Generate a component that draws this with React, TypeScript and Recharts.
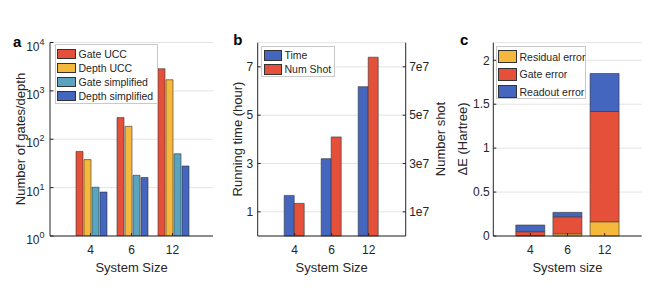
import React from 'react';
import { BarChart, Bar, XAxis, YAxis, CartesianGrid, Legend } from 'recharts';

// ---------- data ----------
const categories = ['4', '6', '12'];

const gateUCC = [56, 280, 2870];
const depthUCC = [38, 185, 1700];
const gateSimplified = [10.2, 18, 50];
const depthSimplified = [8.1, 16.2, 28];

const runningTime = [1.68, 3.2, 6.18];
const numShot = [1.35e7, 4.1e7, 7.4e7];

const residualError = [0.005, 0.025, 0.162];
const gateError = [0.044, 0.194, 1.255];
const readoutError = [0.076, 0.05, 0.432];

const logTicks = [1, 10, 100, 1000, 10000];
const logMinorTicks = [
  2, 3, 4, 5, 6, 7, 8, 9,
  20, 30, 40, 50, 60, 70, 80, 90,
  200, 300, 400, 500, 600, 700, 800, 900,
  2000, 3000, 4000, 5000, 6000, 7000, 8000, 9000,
];
const timeTicks = [1, 3, 5, 7];
const shotTicks = [1e7, 3e7, 5e7, 7e7];
const errorTicks = [0, 0.5, 1, 1.5, 2];

// ---------- styles ----------
const FONT = "'Liberation Sans', Arial, Helvetica, sans-serif";
const INK = '#262626';
const GRID = '#e3e3e3';
const EDGE = '#333333';
const RED = '#E5503A';
const YELLOW = '#F6B83C';
const TEAL = '#5AA4BF';
const BLUE = '#4566BE';

const tickStyle = { fill: INK, fontSize: 12, fontFamily: FONT };
const axisLine = { stroke: INK, strokeWidth: 1 };

const dataA = categories.map((c, i) => ({
  size: c,
  gateUCC: gateUCC[i],
  depthUCC: depthUCC[i],
  gateSimplified: gateSimplified[i],
  depthSimplified: depthSimplified[i],
}));
const dataB = categories.map((c, i) => ({ size: c, time: runningTime[i], shot: numShot[i] }));
const dataC = categories.map((c, i) => ({
  size: c,
  residual: residualError[i],
  gate: gateError[i],
  readout: readoutError[i],
}));

type Item = { name: string; color: string };

const legendA: Item[] = [
  { name: 'Gate UCC', color: RED },
  { name: 'Depth UCC', color: YELLOW },
  { name: 'Gate simplified', color: TEAL },
  { name: 'Depth simplified', color: BLUE },
];
const legendB: Item[] = [
  { name: 'Time', color: BLUE },
  { name: 'Num Shot', color: RED },
];
const legendC: Item[] = [
  { name: 'Residual error', color: YELLOW },
  { name: 'Gate error', color: RED },
  { name: 'Readout error', color: BLUE },
];

function makeLegend(items: Item[], w: number, h: number, padTop: number, padLeft: number, rowH: number, swW: number, swH: number) {
  return () => (
    <div
      style={{
        width: w,
        height: h,
        boxSizing: 'border-box',
        border: '1px solid #c9c9c9',
        background: '#fff',
        paddingTop: padTop,
        paddingLeft: padLeft,
        fontFamily: FONT,
        fontSize: 10.5,
        lineHeight: 1,
        color: INK,
        overflow: 'visible',
      }}
    >
      {items.map((it) => (
        <div key={it.name} style={{ height: rowH, display: 'flex', alignItems: 'center', whiteSpace: 'nowrap' }}>
          <span
            style={{
              display: 'inline-block',
              flexShrink: 0,
              width: swW,
              height: swH,
              boxSizing: 'border-box',
              background: it.color,
              border: `1px solid ${EDGE}`,
              marginRight: 2.5,
            }}
          />
          <span>{it.name}</span>
        </div>
      ))}
    </div>
  );
}

const LogTick = (props: any) => {
  const { x, y, payload } = props;
  const exp = Math.round(Math.log10(payload.value));
  return (
    <text x={x} y={y + 8} textAnchor="end" fill={INK} fontSize={12} fontFamily={FONT}>
      <tspan>10</tspan>
      <tspan dy={-6} fontSize={9}>{exp}</tspan>
    </text>
  );
};

const yLabel = (text: string, x: number, y: number) => () => (
  <text
    transform={`translate(${x},${y}) rotate(-90)`}
    textAnchor="middle"
    dominantBaseline="central"
    fill={INK}
    fontSize={13}
    fontFamily={FONT}
  >
    {text}
  </text>
);

const xLabel = (text: string, cx: number, letter: string, lx: number, ly: number) => () => (
  <g>
    <text x={cx} y={272} textAnchor="middle" fill={INK} fontSize={13} fontFamily={FONT}>
      {text}
    </text>
    <text x={lx} y={ly} fill="#000" fontSize={15} fontWeight="bold" fontFamily={FONT}>
      {letter}
    </text>
  </g>
);

const barEdge = { stroke: EDGE, strokeWidth: 0.6 };

export default function App() {
  return (
    <div style={{ position: 'absolute', left: 0, top: 0, width: 664, height: 291, background: '#fff', overflow: 'hidden' }}>
      {/* Panel a */}
      <div style={{ position: 'absolute', left: 0, top: 0 }}>
        <BarChart
          width={222}
          height={291}
          data={dataA}
          margin={{ top: 42.5, right: 9, bottom: 25, left: 10 }}
          barCategoryGap={6}
          barGap={1}
        >
          <CartesianGrid vertical={false} stroke={GRID} />
          <XAxis
            dataKey="size"
            height={30}
            padding={{ left: 20, right: 20 }}
            tick={tickStyle}
            axisLine={axisLine}
            tickLine={{ stroke: INK }}
            tickSize={-3}
            tickMargin={12}
            label={xLabel('System Size', 131.5, 'a', 13, 46.5)}
          />
          <XAxis xAxisId="top" dataKey="size" orientation="top" height={0} tick={false} tickLine={false} axisLine={axisLine} padding={{ left: 20, right: 20 }} />
          <YAxis
            yAxisId="minor"
            width={0}
            scale="log"
            type="number"
            domain={[1, 10000]}
            allowDataOverflow
            ticks={logMinorTicks}
            tick={false}
            tickSize={-2}
            tickLine={{ stroke: INK }}
            axisLine={false}
          />
          <YAxis
            width={40}
            scale="log"
            type="number"
            domain={[1, 10000]}
            allowDataOverflow
            ticks={logTicks}
            tick={<LogTick />}
            tickSize={-3.5}
            tickMargin={9}
            tickLine={{ stroke: INK }}
            axisLine={axisLine}
            label={yLabel('Number of gates/depth', 20, 139)}
          />
          <YAxis
            yAxisId="right"
            orientation="right"
            width={0}
            scale="log"
            type="number"
            domain={[1, 10000]}
            allowDataOverflow
            ticks={logTicks}
            tick={false}
            tickSize={-3.5}
            tickLine={{ stroke: INK }}
            axisLine={axisLine}
          />
          <Legend
            layout="horizontal"
            verticalAlign="middle"
            align="center"
            wrapperStyle={{ left: 55, top: 43.5, width: 103, height: 60 }}
            content={makeLegend(legendA, 103, 60, 3, 1, 13.9, 19, 10)}
          />
          <Bar dataKey="gateUCC" name="Gate UCC" fill={RED} {...barEdge} isAnimationActive={false} />
          <Bar dataKey="depthUCC" name="Depth UCC" fill={YELLOW} {...barEdge} isAnimationActive={false} />
          <Bar dataKey="gateSimplified" name="Gate simplified" fill={TEAL} {...barEdge} isAnimationActive={false} />
          <Bar dataKey="depthSimplified" name="Depth simplified" fill={BLUE} {...barEdge} isAnimationActive={false} />
        </BarChart>
      </div>

      {/* Panel b */}
      <div style={{ position: 'absolute', left: 222, top: 0 }}>
        <BarChart
          width={232}
          height={291}
          data={dataB}
          margin={{ top: 42.7, right: 18.3, bottom: 25, left: 5.7 }}
          barCategoryGap={8}
          barGap={0}
        >
          <CartesianGrid vertical={false} stroke={GRID} />
          <XAxis
            dataKey="size"
            height={30}
            padding={{ left: 18.5, right: 18.5 }}
            tick={tickStyle}
            axisLine={axisLine}
            tickLine={{ stroke: INK }}
            tickSize={-3}
            tickMargin={12}
            label={xLabel('System Size', 109.7, 'b', 11.3, 45)}
          />
          <XAxis xAxisId="top" dataKey="size" orientation="top" height={0} tick={false} tickLine={false} axisLine={axisLine} padding={{ left: 18.5, right: 18.5 }} />
          <YAxis
            width={30}
            type="number"
            domain={[0, 8]}
            ticks={timeTicks}
            tick={tickStyle}
            tickSize={-3}
            tickMargin={7.5}
            tickLine={{ stroke: INK }}
            axisLine={axisLine}
            label={yLabel('Running time (hour)', 15.7, 139)}
          />
          <YAxis
            yAxisId="shot"
            orientation="right"
            width={30}
            type="number"
            domain={[0, 8e7]}
            ticks={shotTicks}
            tickFormatter={(v: number) => `${Math.round(v / 1e7)}e7`}
            tick={tickStyle}
            tickSize={-3}
            tickMargin={6.5}
            tickLine={{ stroke: INK }}
            axisLine={axisLine}
            label={yLabel('Number shot', 218.3, 139)}
          />
          <Legend
            layout="horizontal"
            verticalAlign="middle"
            align="center"
            wrapperStyle={{ left: 38.7, top: 46, width: 74, height: 31 }}
            content={makeLegend(legendB, 74, 31, 1.5, 2.3, 14, 18, 11)}
          />
          <Bar dataKey="time" name="Time" fill={BLUE} {...barEdge} isAnimationActive={false} />
          <Bar dataKey="shot" name="Num Shot" yAxisId="shot" fill={RED} {...barEdge} isAnimationActive={false} />
        </BarChart>
      </div>

      {/* Panel c */}
      <div style={{ position: 'absolute', left: 442, top: 0 }}>
        <BarChart
          width={222}
          height={291}
          data={dataC}
          margin={{ top: 42.7, right: 22.3, bottom: 25, left: 11.3 }}
          barCategoryGap={4}
        >
          <CartesianGrid vertical={false} stroke={GRID} />
          <XAxis
            dataKey="size"
            height={30}
            padding={{ left: 18.5, right: 18.5 }}
            tick={tickStyle}
            axisLine={axisLine}
            tickLine={{ stroke: INK }}
            tickSize={-3}
            tickMargin={12}
            label={xLabel('System size', 125.5, 'c', 18, 45)}
          />
          <XAxis xAxisId="top" dataKey="size" orientation="top" height={0} tick={false} tickLine={false} axisLine={axisLine} padding={{ left: 18.5, right: 18.5 }} />
          <YAxis
            width={40}
            type="number"
            domain={[0, 2.2]}
            ticks={errorTicks}
            tick={tickStyle}
            tickSize={-3}
            tickMargin={6.5}
            tickLine={{ stroke: INK }}
            axisLine={axisLine}
            label={yLabel('ΔE (Hartree)', 20.5, 139)}
          />
          <YAxis
            yAxisId="right"
            orientation="right"
            width={0}
            type="number"
            domain={[0, 2.2]}
            ticks={errorTicks}
            tick={false}
            tickSize={-3}
            tickLine={{ stroke: INK }}
            axisLine={axisLine}
          />
          <Legend
            layout="horizontal"
            verticalAlign="middle"
            align="center"
            wrapperStyle={{ left: 53.7, top: 46, width: 90, height: 53.3 }}
            content={makeLegend(legendC, 90, 53.3, 1, 1.3, 17.5, 19, 13)}
          />
          <Bar dataKey="residual" name="Residual error" stackId="e" fill={YELLOW} {...barEdge} isAnimationActive={false} />
          <Bar dataKey="gate" name="Gate error" stackId="e" fill={RED} {...barEdge} isAnimationActive={false} />
          <Bar dataKey="readout" name="Readout error" stackId="e" fill={BLUE} {...barEdge} isAnimationActive={false} />
        </BarChart>
      </div>
    </div>
  );
}
